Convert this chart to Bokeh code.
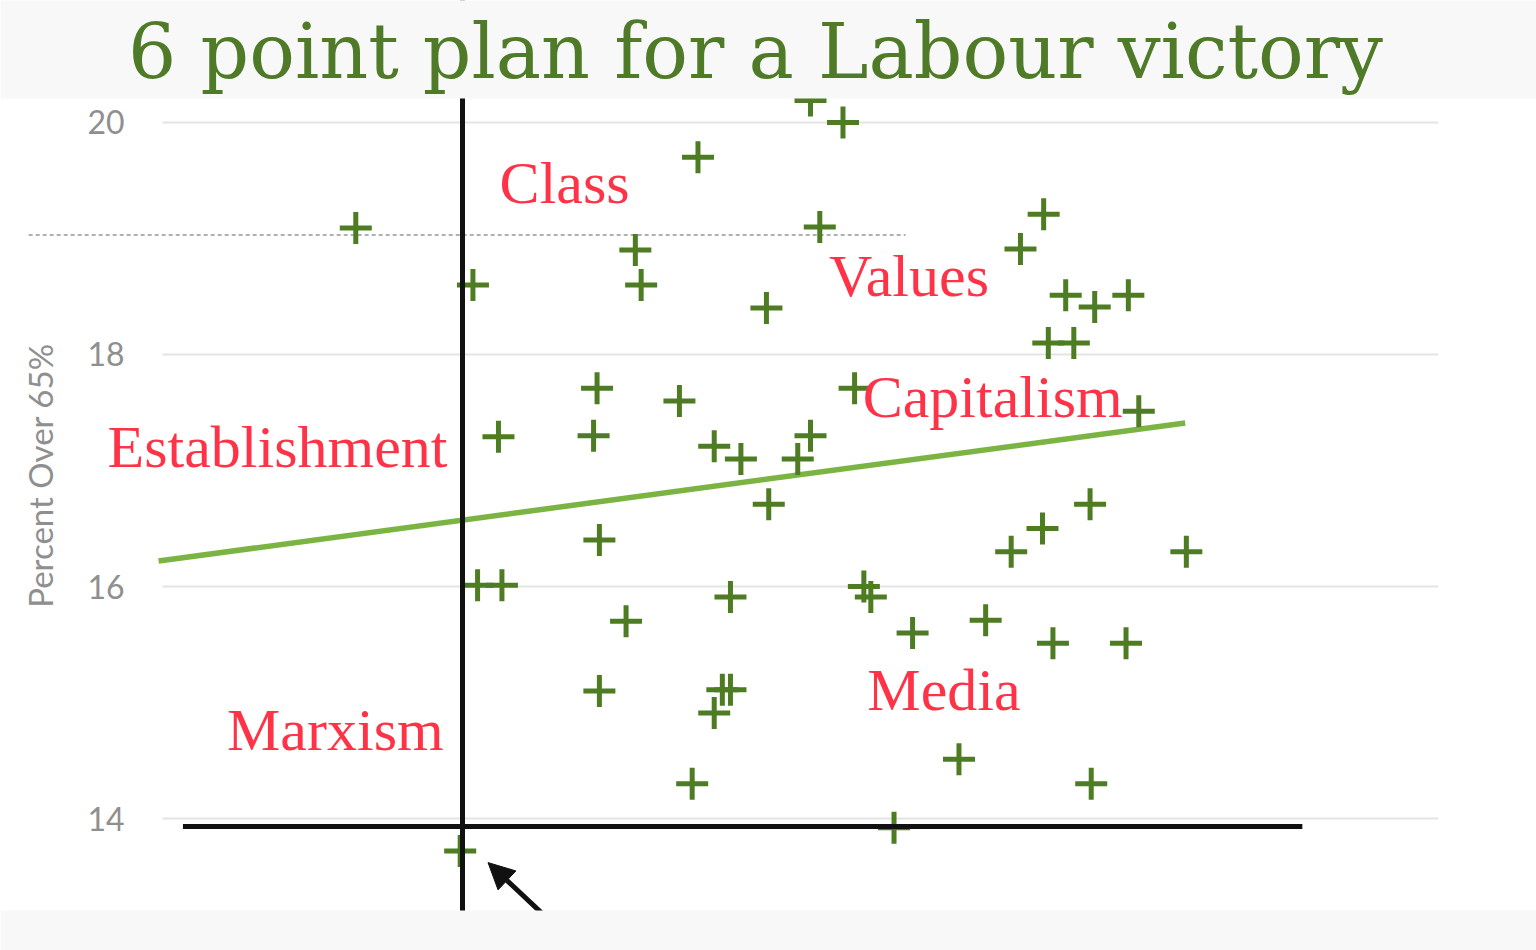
from bokeh.plotting import figure
from bokeh.models import (Range1d, Span, Label, Arrow, NormalHead, FixedTicker,
                          LinearAxis, Grid, BoxAnnotation)
from bokeh.embed import file_html
from bokeh.resources import INLINE

# ---------------- data ----------------
title_text = "6 point plan for a Labour victory"
y_axis_title = "Percent Over 65%"
y_ticks = [14, 16, 18, 20]

pts_x = [-0.92, 0.09, 0.31, 0.13, 0.34, -0.02, 1.16, 1.13, 1.18, 1.41,
         1.18, 1.49, 1.54, 2.03, 1.87, 2.17, 2.40, 2.64, 2.31, 2.24,
         2.31, 2.17, 1.98, 2.62, 3.00, 3.28, 3.08, 3.38, 3.00, 2.89,
         3.46, 3.52, 3.88, 3.72, 4.28, 4.51, 4.73, 5.00, 5.09, 5.41,
         5.72, 5.42, 6.24, 4.81, 5.01, 5.20, 5.45, 5.74, 5.05, 5.27,
         5.83]
pts_y = [19.09, 18.60, 17.29, 16.01, 16.01, 13.72, 17.71, 17.30, 16.40, 15.70,
         15.10, 18.90, 18.60, 19.70, 17.60, 17.21, 17.10, 16.71, 15.91, 15.11,
         15.11, 14.91, 14.30, 18.40, 20.19, 20.00, 19.10, 17.71, 17.30, 17.10,
         16.00, 15.91, 15.60, 13.92, 14.51, 15.71, 16.30, 16.50, 15.51, 16.71,
         15.51, 14.30, 16.30, 18.91, 19.21, 18.51, 18.41, 18.51, 18.10, 18.10,
         17.51]

trend_x = [-2.62, 6.23]
trend_y = [16.22, 17.41]

quad_h_x = [-2.41, 7.24]
quad_h_y = [13.93, 13.93]
quad_v_x = 0.0

ref_line_x = [-3.74, 3.82]
ref_line_y = [19.03, 19.03]

arrow_tail = (0.72, 13.15)
arrow_tip = (0.22, 13.62)

theme_labels = ["Class", "Values", "Capitalism", "Establishment", "Media", "Marxism"]
theme_x = [0.32, 3.16, 3.45, -3.06, 3.49, -2.03]
theme_y = [19.48, 18.68, 17.63, 17.20, 15.11, 14.76]

title_x = 2.526
title_y = 20.612

# ---------------- layout / styles ----------------
X_MIN, X_MAX = -3.9828, 9.2586
Y_MIN, Y_MAX = 12.8621, 21.0517
GRID_X = (-2.586, 8.414)
BAND_TOP_EDGE = 20.2069     # lower edge of title band
BAND_BOTTOM_EDGE = 13.2069  # upper edge of bottom band

BAND = "#f8f8f8"
TITLE_GREEN = "#4f7a28"
POINT_GREEN = "#4d7c22"
TREND_GREEN = "#7cb444"
RED = "#ff3347"
GRAY = "#8f8f8f"
BLACK = "#111111"

p = figure(width=1536, height=950,
           x_range=Range1d(X_MIN, X_MAX), y_range=Range1d(Y_MIN, Y_MAX),
           x_axis_location=None, y_axis_location=None,
           output_backend="svg", toolbar_location=None, min_border=0,
           background_fill_color="white", border_fill_color="white",
           outline_line_color=None)
for g in p.grid:
    g.visible = False

# y axis placed at the left edge of the grid area
ax = LinearAxis(fixed_location=GRID_X[0], ticker=FixedTicker(ticks=y_ticks))
ax.axis_line_color = None
ax.major_tick_line_color = None
ax.minor_tick_line_color = None
ax.major_label_standoff = 32
ax.major_label_text_font = "Lato"
ax.major_label_text_font_size = "32px"
ax.major_label_text_color = GRAY
ax.axis_label = y_axis_title
ax.axis_label_standoff = 24
ax.axis_label_text_font = "Lato"
ax.axis_label_text_font_style = "normal"
ax.axis_label_text_font_size = "33px"
ax.axis_label_text_color = GRAY
p.add_layout(ax, "left")

# horizontal grid lines
if "cross_bounds" in Grid.properties():
    grid = Grid(dimension=1, ticker=FixedTicker(ticks=y_ticks), cross_bounds=GRID_X,
                grid_line_color="#e4e4e4", grid_line_width=2)
    p.add_layout(grid)
else:
    p.segment(x0=[GRID_X[0]] * len(y_ticks), x1=[GRID_X[1]] * len(y_ticks),
              y0=y_ticks, y1=y_ticks, line_color="#e4e4e4", line_width=2, level="underlay")

# dotted reference line
p.line(ref_line_x, ref_line_y, line_color="#b0b0b0", line_width=2, line_dash="4 3")

# trend line
p.line(trend_x, trend_y, line_color=TREND_GREEN, line_width=5.5)

# points
p.scatter(pts_x, pts_y, marker="cross", size=32, line_width=5, line_color=POINT_GREEN)

# quadrant lines
p.line(quad_h_x, quad_h_y, line_color=BLACK, line_width=5)
p.add_layout(Span(location=quad_v_x, dimension="height", line_color=BLACK, line_width=5))

# arrow
p.add_layout(Arrow(end=NormalHead(size=26, fill_color=BLACK, line_color=BLACK),
                   x_start=arrow_tail[0], y_start=arrow_tail[1],
                   x_end=arrow_tip[0], y_end=arrow_tip[1],
                   line_color=BLACK, line_width=5))

# theme labels
for t, lx, ly in zip(theme_labels, theme_x, theme_y):
    p.add_layout(Label(x=lx, y=ly, text=t, text_align="left", text_baseline="alphabetic",
                       text_font="Liberation Serif", text_font_size="60px", text_color=RED))

# title and bottom bands
p.add_layout(BoxAnnotation(left=X_MIN, right=X_MAX, bottom=BAND_TOP_EDGE, top=Y_MAX,
                           fill_color=BAND, fill_alpha=1, line_color=None))
p.add_layout(BoxAnnotation(left=X_MIN, right=X_MAX, bottom=Y_MIN, top=BAND_BOTTOM_EDGE,
                           fill_color=BAND, fill_alpha=1, line_color=None))
p.add_layout(Label(x=title_x, y=title_y, text=title_text, text_align="center",
                   text_baseline="alphabetic", text_font="DejaVu Serif",
                   text_font_size="76px", text_color=TITLE_GREEN))

open("out.html", "w").write(file_html(p, INLINE))
